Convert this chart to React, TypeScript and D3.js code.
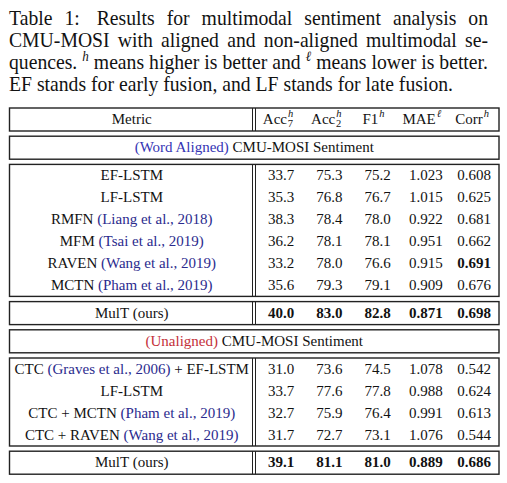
import React, { useRef, useEffect } from 'react'
import * as d3 from 'd3'

// caption lines, '^' marks a superscript token
const CAPTION = [
  'Table 1:\u00a0 Results for multimodal sentiment analysis on',
  'CMU-MOSI with aligned and non-aligned multimodal se-',
  'quences. ^h means higher is better and ^\u2113 means lower is better.',
  'EF stands for early fusion, and LF stands for late fusion.',
]

const METRICS = ['Acc7', 'Acc2', 'F1', 'MAE', 'Corr']
const METRIC_BASE = ['Acc', 'Acc', 'F1', 'MAE', 'Corr']
const METRIC_SUB = ['7', '2', '', '', '']
const METRIC_SUP = ['h', 'h', 'h', '\u2113', 'h']

// (Word Aligned) block
const alignedMethods = ['EF-LSTM', 'LF-LSTM', 'RMFN', 'MFM', 'RAVEN', 'MCTN']
const alignedCites = ['', '', 'Liang et al., 2018', 'Tsai et al., 2019', 'Wang et al., 2019', 'Pham et al., 2019']
const alignedAcc7 = [33.7, 35.3, 38.3, 36.2, 33.2, 35.6]
const alignedAcc2 = [75.3, 76.8, 78.4, 78.1, 78.0, 79.3]
const alignedF1 = [75.2, 76.7, 78.0, 78.1, 76.6, 79.1]
const alignedMAE = [1.023, 1.015, 0.922, 0.951, 0.915, 0.909]
const alignedCorr = [0.608, 0.625, 0.681, 0.662, 0.691, 0.676]
const alignedBold = [[], [], [], [], ['Corr'], []] as string[][]
const alignedOurs = [40.0, 83.0, 82.8, 0.871, 0.698]

// (Unaligned) block
const unalignedPrefix = ['CTC ', 'LF-LSTM', 'CTC + MCTN ', 'CTC + RAVEN ']
const unalignedCites = ['Graves et al., 2006', '', 'Pham et al., 2019', 'Wang et al., 2019']
const unalignedSuffix = [' + EF-LSTM', '', '', '']
const unalignedAcc7 = [31.0, 33.7, 32.7, 31.7]
const unalignedAcc2 = [73.6, 77.6, 75.9, 72.7]
const unalignedF1 = [74.5, 77.8, 76.4, 73.1]
const unalignedMAE = [1.078, 0.988, 0.991, 1.076]
const unalignedCorr = [0.542, 0.624, 0.613, 0.544]
const unalignedOurs = [39.1, 81.1, 81.0, 0.889, 0.686]

const FONT = '"Liberation Serif", "Times New Roman", serif'
const INK = '#121212'
const CITE = '#2b2b8e'
const BLUE = '#3434b4'
const RED = '#c4303a'
const LINE = '#222'

const fmt = (m: string) => (m === 'MAE' || m === 'Corr' ? d3.format('.3f') : d3.format('.1f'))

function Caption() {
  const ref = useRef<SVGGElement>(null)
  useEffect(() => {
    if (!ref.current) return
    const g = d3.select(ref.current)
    g.selectAll('*').remove()
    const fs = 21
    const space = fs * 0.25
    const lines = CAPTION.map((line, i) => {
      const base = 25 + i * 22
      return line.split(' ').map(w => {
        const sup = w.startsWith('^')
        const t = g.append('text')
          .attr('y', sup ? base - 8 : base)
          .attr('font-size', sup ? 14 : fs)
          .attr('font-style', sup ? 'italic' : null)
          .text(sup ? w.slice(1) : w)
        return { t, w: (t.node() as SVGTextElement).getComputedTextLength() }
      })
    })
    // last line sets the horizontal squeeze, the others are justified
    const last = lines[lines.length - 1]
    const natural = d3.sum(last, d => d.w) + (last.length - 1) * space
    const k = 444 / natural
    const full = 479 / k
    lines.forEach((words, i) => {
      const sum = d3.sum(words, d => d.w)
      const gap = i < lines.length - 1 ? (full - sum) / (words.length - 1) : space
      let x = 0
      words.forEach(d => {
        d.t.attr('x', x)
        x += d.w + gap
      })
    })
    g.attr('transform', `translate(9,0) scale(${k},1)`)
  }, [])
  return <g ref={ref} fill={INK} fontFamily={FONT} />
}

export default function App() {
  const left = 9.5
  const right = 499
  const divider = 254
  const mid = (left + divider) / 2
  const center = (left + right) / 2
  const single = 23
  const rowH = 22
  const gap = 5.2

  const x = d3.scalePoint<string>().domain(METRICS).range([281, 474])

  // stack the boxes from the top
  const heights = [single, single, alignedMethods.length * rowH, single, single, unalignedPrefix.length * rowH, single]
  const tops: number[] = []
  heights.reduce((acc, h) => { tops.push(acc); return acc + h + gap }, 108)

  const rowY = (top: number) => d3.scaleLinear().domain([0, 1]).range([top + 15.5, top + 15.5 + rowH])

  const box = (i: number, split = true) => (
    <g key={`box${i}`} fill="none" stroke={LINE}>
      <rect x={left} y={tops[i]} width={right - left} height={heights[i]} strokeWidth={1.4} />
      {split && <>
        <line x1={divider - 1.5} x2={divider - 1.5} y1={tops[i]} y2={tops[i] + heights[i]} strokeWidth={1} />
        <line x1={divider + 1.5} x2={divider + 1.5} y1={tops[i]} y2={tops[i] + heights[i]} strokeWidth={1} />
      </>}
    </g>
  )

  const valueRow = (vals: number[], y: number, bold: string[], key: string) => (
    <g key={key}>
      {METRICS.map((m, j) => (
        <text key={m} x={x(m)} y={y} textAnchor="middle" fontWeight={bold.includes(m) ? 'bold' : 'normal'}>
          {fmt(m)(vals[j])}
        </text>
      ))}
    </g>
  )

  const alignedCols = [alignedAcc7, alignedAcc2, alignedF1, alignedMAE, alignedCorr]
  const unalignedCols = [unalignedAcc7, unalignedAcc2, unalignedF1, unalignedMAE, unalignedCorr]
  const yA = rowY(tops[2])
  const yU = rowY(tops[5])

  return (
    <svg width={507} height={483} style={{ position: 'absolute', left: 0, top: 0, background: '#fff' }}>
      <rect width={507} height={483} fill="#fff" />
      <Caption />
      {heights.map((_, i) => box(i, i !== 1 && i !== 4))}
      <g fontFamily={FONT} fontSize={15} fill={INK}>
        {/* header */}
        <text x={mid} y={tops[0] + 16} textAnchor="middle">Metric</text>
        {METRICS.map((m, j) => (
          <text key={m} x={(x(m) ?? 0) - (j < 2 ? 3 : j === 4 ? 2 : 4)} y={tops[0] + 16} textAnchor="middle">
            {METRIC_BASE[j]}
            <tspan fontSize={10.5} fontStyle="italic" dx={1} dy={-7}>{METRIC_SUP[j]}</tspan>
            {METRIC_SUB[j] && <tspan fontSize={10.5} dx={-5.5} dy={10}>{METRIC_SUB[j]}</tspan>}
          </text>
        ))}

        <text x={center} y={tops[1] + 16} textAnchor="middle">
          <tspan fill={BLUE}>(Word Aligned)</tspan> CMU-MOSI Sentiment
        </text>

        {alignedMethods.map((m, i) => (
          <text key={m} x={mid} y={yA(i)} textAnchor="middle">
            {m}
            {alignedCites[i] && <tspan fill={CITE}> ({alignedCites[i]})</tspan>}
          </text>
        ))}
        {alignedMethods.map((_, i) =>
          valueRow(alignedCols.map(c => c[i]), yA(i), alignedBold[i], `a${i}`))}

        <text x={mid} y={tops[3] + 16} textAnchor="middle">MulT (ours)</text>
        {valueRow(alignedOurs, tops[3] + 16, METRICS, 'aours')}

        <text x={center} y={tops[4] + 16.5} textAnchor="middle">
          <tspan fill={RED}>(Unaligned)</tspan> CMU-MOSI Sentiment
        </text>

        {unalignedPrefix.map((p, i) => (
          <text key={p + i} x={mid} y={yU(i)} textAnchor="middle">
            {p}
            {unalignedCites[i] && <tspan fill={CITE}>({unalignedCites[i]})</tspan>}
            {unalignedSuffix[i]}
          </text>
        ))}
        {unalignedPrefix.map((_, i) =>
          valueRow(unalignedCols.map(c => c[i]), yU(i), [], `u${i}`))}

        <text x={mid} y={tops[6] + 16} textAnchor="middle">MulT (ours)</text>
        {valueRow(unalignedOurs, tops[6] + 16, METRICS, 'uours')}
      </g>
    </svg>
  )
}
